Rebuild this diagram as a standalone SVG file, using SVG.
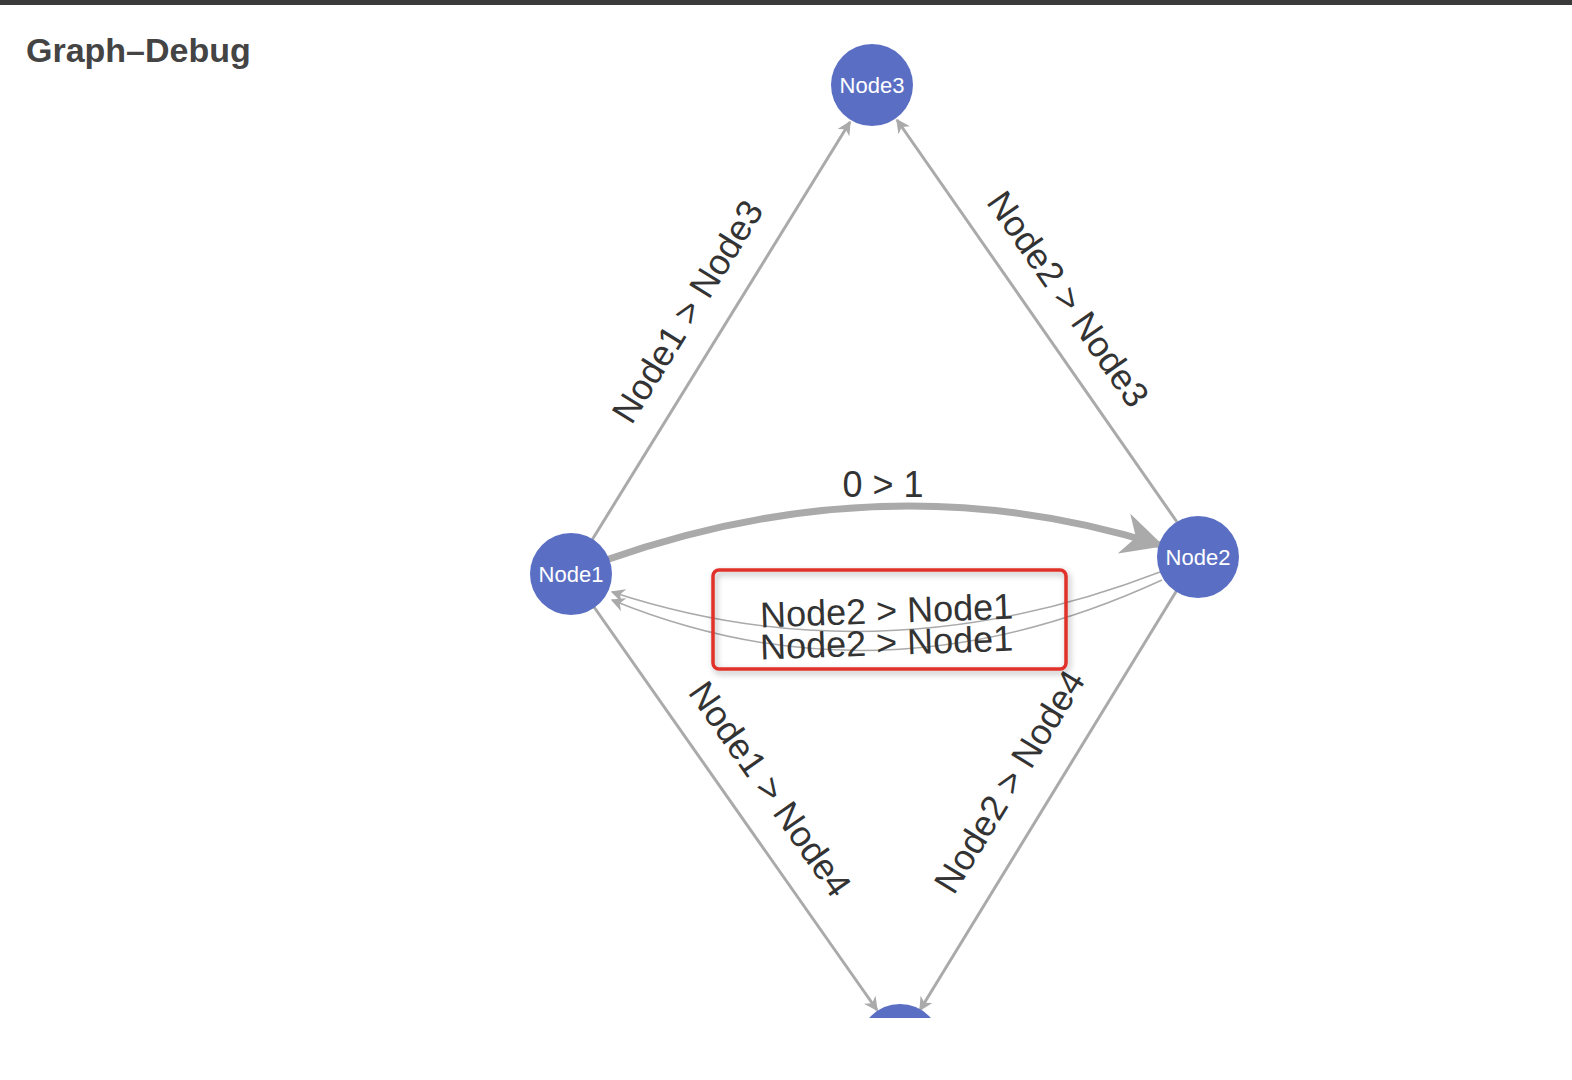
<svg xmlns="http://www.w3.org/2000/svg" width="1572" height="1080" viewBox="0 0 1572 1080">
<style>
.n{fill:#5a6fc4}
.nt{font-family:"Liberation Sans",Arial,sans-serif;font-size:22px;fill:#fff;text-anchor:middle}
.e{fill:none;stroke:#aaa;stroke-width:2.5}
.t{font-family:"Liberation Sans",Arial,sans-serif;font-size:36px;fill:#333;text-anchor:middle}
</style>
<defs>
<marker id="a" viewBox="0 0 10 10" refX="9" refY="5" markerWidth="8" markerHeight="8" markerUnits="userSpaceOnUse" orient="auto"><path d="M0,0L10,5L0,10L3,5z" fill="#aaa"/></marker>
<marker id="a2" viewBox="0 0 10 10" refX="9" refY="5" markerWidth="6" markerHeight="6" orient="auto"><path d="M0,0L10,5L0,10L3,5z" fill="#aaa"/></marker>
<marker id="a3" viewBox="0 0 10 10" refX="9" refY="5" markerWidth="14" markerHeight="14" markerUnits="userSpaceOnUse" orient="auto"><path d="M0,0L10,5L0,10L3,5z" fill="#aaa"/></marker>
<filter id="sh" x="-10%" y="-10%" width="120%" height="130%"><feDropShadow dx="2" dy="3" stdDeviation="3" flood-color="#000" flood-opacity="0.3"/></filter>
<clipPath id="c"><rect x="0" y="0" width="1572" height="1018"/></clipPath>
</defs>
<rect width="1572" height="1080" fill="#fff"/>
<rect width="1572" height="5" fill="#3a3a3a"/>
<text x="26" y="62" font-family="Liberation Sans,Arial,sans-serif" font-size="34" font-weight="bold" fill="#444">Graph–Debug</text>
<g clip-path="url(#c)">
<g id="edges">
<line class="e" x1="592" y1="540" x2="850" y2="122" style="stroke-width:3" marker-end="url(#a3)"/>
<line class="e" x1="1177" y1="522" x2="897" y2="120" style="stroke-width:3" marker-end="url(#a3)"/>
<line class="e" x1="594" y1="607" x2="877" y2="1010" style="stroke-width:3" marker-end="url(#a3)"/>
<line class="e" x1="1177" y1="590" x2="920" y2="1010" style="stroke-width:3" marker-end="url(#a3)"/>
<path class="e" d="M606,560 Q890,460 1160,545" style="stroke-width:7" marker-end="url(#a2)"/>
<path class="e" d="M1160,572 Q880,680 612,592" style="stroke-width:1.5" marker-end="url(#a3)"/>
<path class="e" d="M1162,580 Q880,710 612,600" style="stroke-width:1.5" marker-end="url(#a3)"/>
<text class="t" x="883" y="497">0 &gt; 1</text>
<text class="t" transform="translate(698,318) rotate(-58.3)">Node1 &gt; Node3</text>
<text class="t" transform="translate(1058,306) rotate(55.1)">Node2 &gt; Node3</text>
<text class="t" transform="translate(760,796) rotate(54.9)">Node1 &gt; Node4</text>
<text class="t" transform="translate(1020,788) rotate(-58.5)">Node2 &gt; Node4</text>
</g>
<g id="node3"><circle class="n" cx="872" cy="85" r="41"/><text class="nt" x="872" y="93">Node3</text></g>
<g id="node1"><circle class="n" cx="571" cy="574" r="41"/><text class="nt" x="571" y="582">Node1</text></g>
<g id="node2"><circle class="n" cx="1198" cy="557" r="41"/><text class="nt" x="1198" y="565">Node2</text></g>
<g id="node4"><circle class="n" cx="900" cy="1045" r="41"/></g>
</g>
<rect x="713" y="570" width="353" height="99" rx="6" fill="none" stroke="#e0302a" stroke-width="3.5" filter="url(#sh)"/>
<text class="t" transform="translate(887,623) rotate(-2)">Node2 &gt; Node1</text>
<text class="t" transform="translate(887,655) rotate(-2)">Node2 &gt; Node1</text>
</svg>
